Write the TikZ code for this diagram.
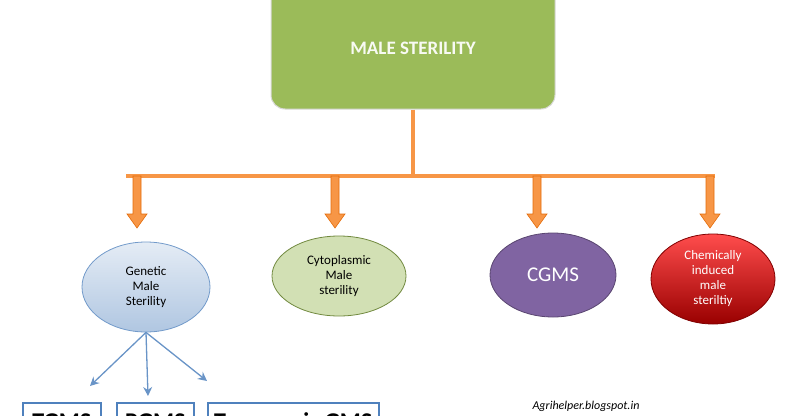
\documentclass[tikz,border=0pt]{standalone}
\usepackage{fontspec}
\setmainfont{Carlito}
\usetikzlibrary{arrows.meta,shapes.geometric}
\definecolor{og}{HTML}{F79646}
\definecolor{ogd}{HTML}{E46C0A}
\definecolor{gr}{HTML}{9BBB59}
\definecolor{grd}{HTML}{71893F}
\definecolor{bl}{HTML}{4F81BD}
\definecolor{pu}{HTML}{8064A2}
\tikzset{
 blk/.style={fill=og, draw=ogd, line width=0.6pt},
 ell/.style={ellipse, line width=0.8pt, align=center, font=\fontsize{13pt}{15pt}\selectfont, inner sep=0pt},
 leaf/.style={draw=bl, line width=1.5pt, anchor=north west, inner sep=0pt},
 leaftxt/.style={font=\bfseries\fontsize{24pt}{26pt}\selectfont, anchor=base},
 barr/.style={draw=bl!85, line width=1.3pt, -{Stealth[length=9pt,width=9pt]}}
}
\begin{document}
\begin{tikzpicture}[x=1pt,y=-1pt]
\useasboundingbox (0,0) rectangle (791,415);
\begin{scope}
\clip (0,0) rectangle (791,415);
\node[draw=white!85!black, line width=1pt, fill=gr, rounded corners=14pt, minimum width=284pt, minimum height=130pt, inner sep=0pt] (top) at (413,44) {};
\node[text=white!93!gr, font=\bfseries\fontsize{19pt}{21pt}\selectfont] (tt) at (413,48) {MALE STERILITY};
\coordinate (j) at (413,176);
\coordinate (L) at (126,176);
\coordinate (R) at (715,176);
\draw[og, line width=4pt] (top.south) -- (j);
\draw[og, line width=4pt] (L) -- (R);
\foreach \x in {137,335,537,710}{
  \draw[blk] (\x-4,176) -- (\x+4,176) -- (\x+4,214) -- (\x+10,214) -- (\x,228) -- (\x-10,214) -- (\x-4,214) -- cycle;
}
\node[ell, draw=bl!80, top color=white!85!bl, bottom color=bl!45!white, minimum width=128pt, minimum height=90pt] (g) at (146,287) {Genetic\\Male\\Sterility};
\node[ell, draw=grd, fill=gr!45!white, minimum width=134pt, minimum height=80pt] (c) at (339,276) {Cytoplasmic\\Male\\sterility};
\node[ell, draw=pu!70!black, fill=pu, text=white, minimum width=126pt, minimum height=84pt, font=\fontsize{21pt}{23pt}\selectfont] (cg) at (553,275) {CGMS};
\node[ell, draw=red!50!black, top color=red!70!white, bottom color=red!60!black, text=white, minimum width=124pt, minimum height=90pt] (ch) at (713,279) {Chemically\\induced\\male\\steriltiy};
\node[leaf, minimum width=78pt, minimum height=30pt] (b1) at (22,402) {};
\node[leaf, minimum width=77pt, minimum height=30pt] (b2) at (116,402) {};
\node[leaf, minimum width=171pt, minimum height=30pt] (b3) at (207,402) {};
\node[leaftxt] (t1) at ([yshift=-27pt]b1.north) {TGMS};
\node[leaftxt] (t2) at ([yshift=-27pt]b2.north) {PGMS};
\node[leaftxt] (t3) at ([yshift=-27pt]b3.north) {Transgenic GMS};
\coordinate (a1) at (90,386);
\coordinate (a2) at (148,396);
\coordinate (a3) at (207,381);
\draw[barr] (g.south) -- (a1);
\draw[barr] (g.south) -- (a2);
\draw[barr] (g.south) -- (a3);
\node[font=\itshape\fontsize{12pt}{14pt}\selectfont] (ag) at (586,406) {Agrihelper.blogspot.in};
\end{scope}
\end{tikzpicture}
\end{document}
